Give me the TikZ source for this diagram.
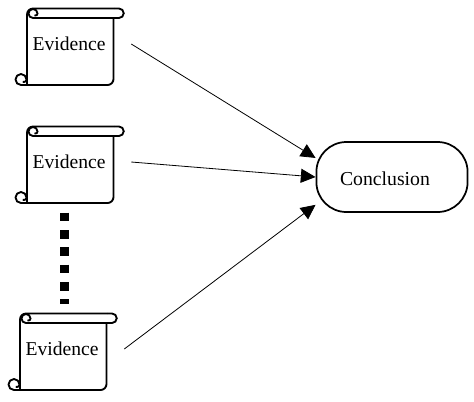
\documentclass[tikz,border=0pt]{standalone}
\usepackage{fontspec}
\setmainfont{Liberation Serif}
\usetikzlibrary{arrows.meta,calc,positioning}
\tikzset{
  evidence/.style={minimum width=93pt,minimum height=20pt,inner sep=0,font=\fontsize{14.7}{16}\selectfont},
  conclusion/.style={draw,line width=1.3pt,rectangle,rounded corners=22.5pt,minimum width=113.4pt,minimum height=52.5pt,inner sep=0,font=\fontsize{14.8}{16}\selectfont},
  link/.style={line width=0.6pt,-{Triangle[length=11pt,width=10.5pt]}},
  dotline/.style={line width=6.75pt,dash pattern=on 6.4pt off 6.6pt},
  scrollpage/.pic={
    \draw[line width=1.4pt,line join=round] (-42,41) -- (-48,41) arc[start angle=90,end angle=360,radius=5.5] arc[start angle=0,end angle=120,radius=2.5];
    \draw[line width=1.4pt,rounded corners=4.5pt] (-42,41) -- (-42,-35.5) -- (45,-35.5);
    \draw[line width=1.4pt] (45,-35.5) -- (50,-35.5) arc[start angle=-90,end angle=90,radius=4.75] -- (-36,-26) arc[start angle=90,end angle=360,radius=4.5] arc[start angle=0,end angle=120,radius=2];
    \draw[line width=1.4pt,rounded corners=4.5pt] (44.5,-26) -- (44.5,41) -- (-42,41);
  }
}
\begin{document}
\begin{tikzpicture}[x=0.75pt,y=-0.75pt]
  \useasboundingbox (0,0) rectangle (474,401);
  % Evidence scrolls
  \node[evidence] (ev1) at (69,44) {Evidence};
  \node[evidence] (ev2) at (69,162) {Evidence};
  \node[evidence] (ev3) at (62,349) {Evidence};
  \pic at (ev1) {scrollpage};
  \pic at (ev2) {scrollpage};
  \pic at (ev3) {scrollpage};
  % Conclusion box
  \node[conclusion] (conc) at (392,177) {\raisebox{-6pt}[0pt][0pt]{Conclusion}\kern10.5pt};
  % Arrows into the conclusion
  \draw[link] (ev1.east) -- (conc.166);
  \draw[link] (ev2.east) -- (conc.west);
  \draw[link] (ev3.east) -- (conc.200);
  % Thick dots between the scrolls
  \coordinate (dotstop) at (64.7,212.7);
  \coordinate (dotsend) at (64.7,304);
  \draw[dotline] (dotstop) -- (dotsend);
\end{tikzpicture}
\end{document}
